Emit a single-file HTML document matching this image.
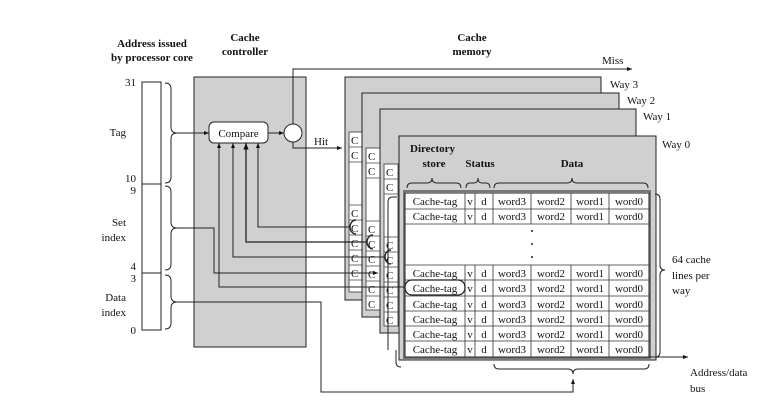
<!DOCTYPE html>
<html><head><style>body{margin:0;background:#fff}svg{display:block}text{font-family:"Liberation Serif",serif;font-size:11px;fill:#111}.b{font-weight:bold}</style></head><body>
<svg width="761" height="407" viewBox="0 0 761 407" xmlns="http://www.w3.org/2000/svg">
<defs><marker id="a" viewBox="0 0 10 10" refX="10" refY="5" markerWidth="7" markerHeight="5" orient="auto"><path d="M0,1 L10,5 L0,9z" fill="#111"/></marker></defs>
<g class="b" text-anchor="middle">
<text x="152" y="47" class="b">Address issued</text><text x="152" y="61" class="b">by processor core</text>
<text x="245" y="41" class="b">Cache</text><text x="245" y="55" class="b">controller</text>
<text x="472" y="41" class="b">Cache</text><text x="472" y="55" class="b">memory</text></g>
<rect x="142" y="82" width="19" height="248" fill="#fff" stroke="#222"/>
<line x1="142" y1="184" x2="161" y2="184" stroke="#222"/><line x1="142" y1="273" x2="161" y2="273" stroke="#222"/>
<g text-anchor="end"><text x="136" y="86">31</text><text x="126" y="136">Tag</text><text x="136" y="182">10</text><text x="136" y="194">9</text><text x="126" y="226">Set</text><text x="126" y="241">index</text><text x="136" y="270">4</text><text x="136" y="282">3</text><text x="126" y="301">Data</text><text x="126" y="316">index</text><text x="136" y="334">0</text></g>
<g fill="none" stroke="#222" stroke-width="1">
<path d="M165,83 q6,0 6,6 v38 q0,6 6,6 q-6,0 -6,6 v38 q0,6 -6,6"/>
<path d="M165,186 q6,0 6,6 v30 q0,6 6,6 q-6,0 -6,6 v30 q0,6 -6,6"/>
<path d="M165,275 q6,0 6,6 v15 q0,6 6,6 q-6,0 -6,6 v15 q0,6 -6,6"/></g>
<rect x="194" y="77" width="112" height="270" fill="#d0d0d0" stroke="#222"/>
<g stroke="#222">
<rect x="345" y="77" width="256" height="223" fill="#d0d0d0"/>
<rect x="349" y="132" width="14" height="160" fill="#fff" stroke="#555"/>
<rect x="362" y="93" width="257" height="224" fill="#d0d0d0"/>
<rect x="366" y="148" width="14" height="162" fill="#fff" stroke="#555"/>
<rect x="380" y="109" width="256" height="224" fill="#d0d0d0"/>
<rect x="384" y="164" width="14" height="162" fill="#fff" stroke="#555"/>
<rect x="399" y="136" width="257" height="224" fill="#d0d0d0"/>
<rect x="404" y="191" width="246" height="167" fill="none" stroke="#777" stroke-width="2"/>
<rect x="405" y="193" width="244" height="164" fill="#fff"/>
</g>
<g stroke="#444" stroke-width="0.8">
<path d="M349,147h14M349,162h14M349,205h14M349,220h14M349,235h14M349,250h14M349,265h14M349,280h14"/>
<path d="M366,163h14M366,178h14M366,221h14M366,236h14M366,251h14M366,266h14M366,281h14M366,296h14"/>
<path d="M384,179h14M384,194h14M384,237h14M384,252h14M384,267h14M384,282h14M384,297h14M384,312h14"/>
</g>
<g font-size="10"><text x="351" y="144">C</text><text x="351" y="159">C</text><text x="351" y="217">C</text><text x="351" y="232">C</text><text x="351" y="247">C</text><text x="351" y="262">C</text><text x="351" y="277">C</text>
<text x="368" y="160">C</text><text x="368" y="175">C</text><text x="368" y="233">C</text><text x="368" y="248">C</text><text x="368" y="263">C</text><text x="368" y="278">C</text><text x="368" y="293">C</text><text x="368" y="308">C</text>
<text x="386" y="176">C</text><text x="386" y="191">C</text><text x="386" y="249">C</text><text x="386" y="264">C</text><text x="386" y="279">C</text><text x="386" y="294">C</text><text x="386" y="309">C</text><text x="386" y="324">C</text></g>
<g stroke="#333" stroke-width="0.8" fill="none">
<path d="M405,209h244M405,224h244M405,265h244M405,280h244M405,296h244M405,311h244M405,326h244M405,341h244"/>
<path d="M465,193v31M475,193v31M493,193v31M531,193v31M571,193v31M609,193v31"/>
<path d="M465,265v92M475,265v92M493,265v92M531,265v92M571,265v92M609,265v92"/>
</g>
<g text-anchor="middle">
<g id="r"><text x="435" y="205">Cache-tag</text><text x="470" y="205">v</text><text x="484" y="205">d</text><text x="512" y="205">word3</text><text x="551" y="205">word2</text><text x="590" y="205">word1</text><text x="629" y="205">word0</text></g>
<use href="#r" y="15"/><use href="#r" y="72"/><use href="#r" y="87"/><use href="#r" y="103"/><use href="#r" y="118"/><use href="#r" y="133"/><use href="#r" y="148"/>
</g>
<circle cx="532" cy="231" r="1" fill="#222"/><circle cx="532" cy="244" r="1" fill="#222"/><circle cx="532" cy="257" r="1" fill="#222"/>
<text x="410" y="152" class="b">Directory</text>
<g text-anchor="middle" class="b"><text x="434" y="167" class="b">store</text><text x="480" y="167" class="b">Status</text><text x="572" y="167" class="b">Data</text></g>
<g fill="none" stroke="#222">
<path d="M407,188 q0,-5 5,-5 h15 q5,0 5,-5 q0,5 5,5 h19 q5,0 5,5"/>
<path d="M466,188 q0,-5 4,-5 h4 q4,0 4,-5 q0,5 4,5 h4 q4,0 4,5"/>
<path d="M494,188 q0,-5 5,-5 h68 q5,0 5,-5 q0,5 5,5 h66 q5,0 5,5"/>
<path d="M655,194 q5,0 5,5 v66 q0,5 5,5 q-5,0 -5,5 v77 q0,5 -5,5"/>
<path d="M494,364 q0,5 5,5 h69 q5,0 5,5 q0,-5 5,-5 h66 q5,0 5,-5"/>
</g>
<g text-anchor="start"><text x="610" y="88">Way 3</text><text x="627" y="104">Way 2</text><text x="643" y="120">Way 1</text><text x="662" y="148">Way 0</text>
<text x="602" y="64">Miss</text><text x="314" y="145">Hit</text>
<text x="672" y="263">64 cache</text><text x="672" y="279">lines per</text><text x="672" y="294">way</text>
<text x="690" y="376">Address/data</text><text x="690" y="392">bus</text></g>
<rect x="209" y="122" width="59" height="21" rx="5" fill="#fff" stroke="#222"/>
<text x="238.5" y="137" text-anchor="middle">Compare</text>
<circle cx="293" cy="133" r="9" fill="#fff" stroke="#222"/>
<g fill="none" stroke="#222">
<path d="M177,133H209" marker-end="url(#a)"/>
<path d="M268,133H284" marker-end="url(#a)"/>
<path d="M293,124V69H632" marker-end="url(#a)"/>
<path d="M293,142V148H342" marker-end="url(#a)"/>
<path d="M349,227H258V143" marker-end="url(#a)"/>
<path d="M366,242H246V143" stroke-width="1.3" marker-end="url(#a)"/>
<path d="M384,257H233V143" marker-end="url(#a)"/>
<path d="M405,287H219V143" marker-end="url(#a)"/>
<path d="M177,228H214V273H378" marker-end="url(#a)"/>
<path d="M177,302H321V392H573V379" marker-end="url(#a)"/>
<path d="M649,357H688" marker-end="url(#a)"/>
<path d="M388,350V202q0,-5 5,-5h4"/>
<path d="M396,350V362q0,5 5,5"/>
<path d="M356,220 a6,7 0 0 0 0,14" stroke-width="1.4"/>
<path d="M373,235 a6,7 0 0 0 0,14" stroke-width="1.4"/>
<path d="M391,250 a6,7 0 0 0 0,14" stroke-width="1.4"/>
<rect x="405" y="280" width="60" height="15" rx="7" stroke-width="1.3"/>
</g>
</svg></body></html>
